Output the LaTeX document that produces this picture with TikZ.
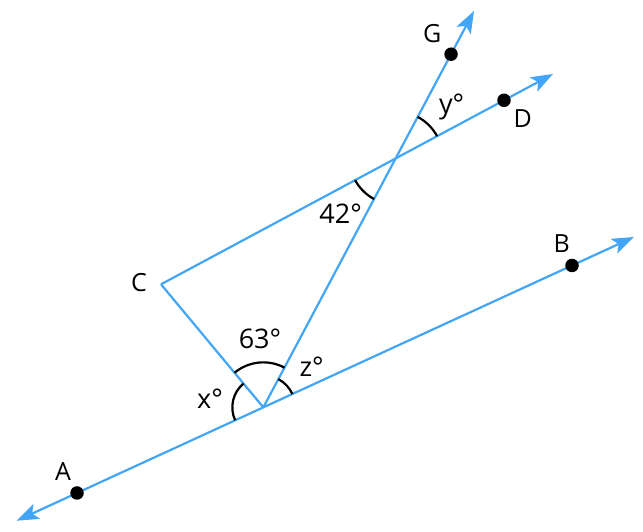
\documentclass[tikz,border=0pt]{standalone}
\usepackage{fontspec}
\setmainfont{Open Sans}
\usetikzlibrary{arrows.meta,calc}
\definecolor{lineblue}{RGB}{66,165,245}
\tikzset{
  ray/.style={draw=lineblue, line width=2.2pt},
  tip/.style={-{Stealth[length=22pt,width=16pt,inset=5pt]}},
  dot/.style={circle, fill=black, inner sep=0pt, minimum size=13.5pt},
  anglearc/.style={draw=black, line width=2.2pt},
  ptlabel/.style={font=\fontsize{25}{25}\selectfont, inner sep=0pt},
  anglabel/.style={font=\fontsize{27}{27}\selectfont, inner sep=0pt}
}
\begin{document}
\begin{tikzpicture}[x=1pt,y=1pt]
\useasboundingbox (0,0) rectangle (643,531);
\coordinate (Atip) at (16.7,10.3);
\coordinate (Btip) at (634,294);
\coordinate (V) at ($(Atip)!0.3995!(Btip)$);
\coordinate (C) at (161,246.7);
\coordinate (Dtip) at (553,457);
\coordinate (Gtip) at (474,520);
\coordinate (X) at (intersection of C--Dtip and V--Gtip);
% lines
\draw[ray, tip] (V) -- (Btip);
\draw[ray, tip] (V) -- (Atip);
\draw[ray, tip] (C) -- (Dtip);
\draw[ray, tip] (V) -- (Gtip);
\draw[ray, line join=miter] (V) -- (C);
% dots
\node[dot] (A) at ($(Atip)!0.0977!(Btip)$) {};
\node[dot] (B) at ($(Atip)!0.8996!(Btip)$) {};
\node[dot] (D) at ($(C)!0.875!(Dtip)$) {};
\node[dot] (G) at ($(V)!0.891!(Gtip)$) {};
% arcs
\draw[anglearc] ($(V)+(129.73:31)$) arc[start angle=129.73, end angle=204.68, radius=31];
\draw[anglearc] ($(V)+(62:45)$) arc[start angle=62, end angle=129.73, radius=45];
\draw[anglearc] ($(V)+(24.68:32)$) arc[start angle=24.68, end angle=62, radius=32];
\draw[anglearc] ($(X)+(208.21:46)$) arc[start angle=208.21, end angle=242, radius=46];
\draw[anglearc] ($(X)+(28.21:47)$) arc[start angle=28.21, end angle=62, radius=47];
% labels
\node[ptlabel] (lA) at (63,59.3) {A};
\node[ptlabel] (lB) at (561.7,287.7) {B};
\node[ptlabel] (lC) at (139,248.7) {C};
\node[ptlabel] (lD) at (522.7,412.7) {D};
\node[ptlabel] (lG) at (432.3,497.7) {G};
\node[anglabel] (ly) at (451.7,424.3) {y°};
\node[anglabel] (l42) at (340.7,317) {42°};
\node[anglabel] (l63) at (260,192) {63°};
\node[anglabel] (lx) at (210,132.7) {x°};
\node[anglabel] (lz) at (311.7,164.3) {z°};
\end{tikzpicture}
\end{document}
